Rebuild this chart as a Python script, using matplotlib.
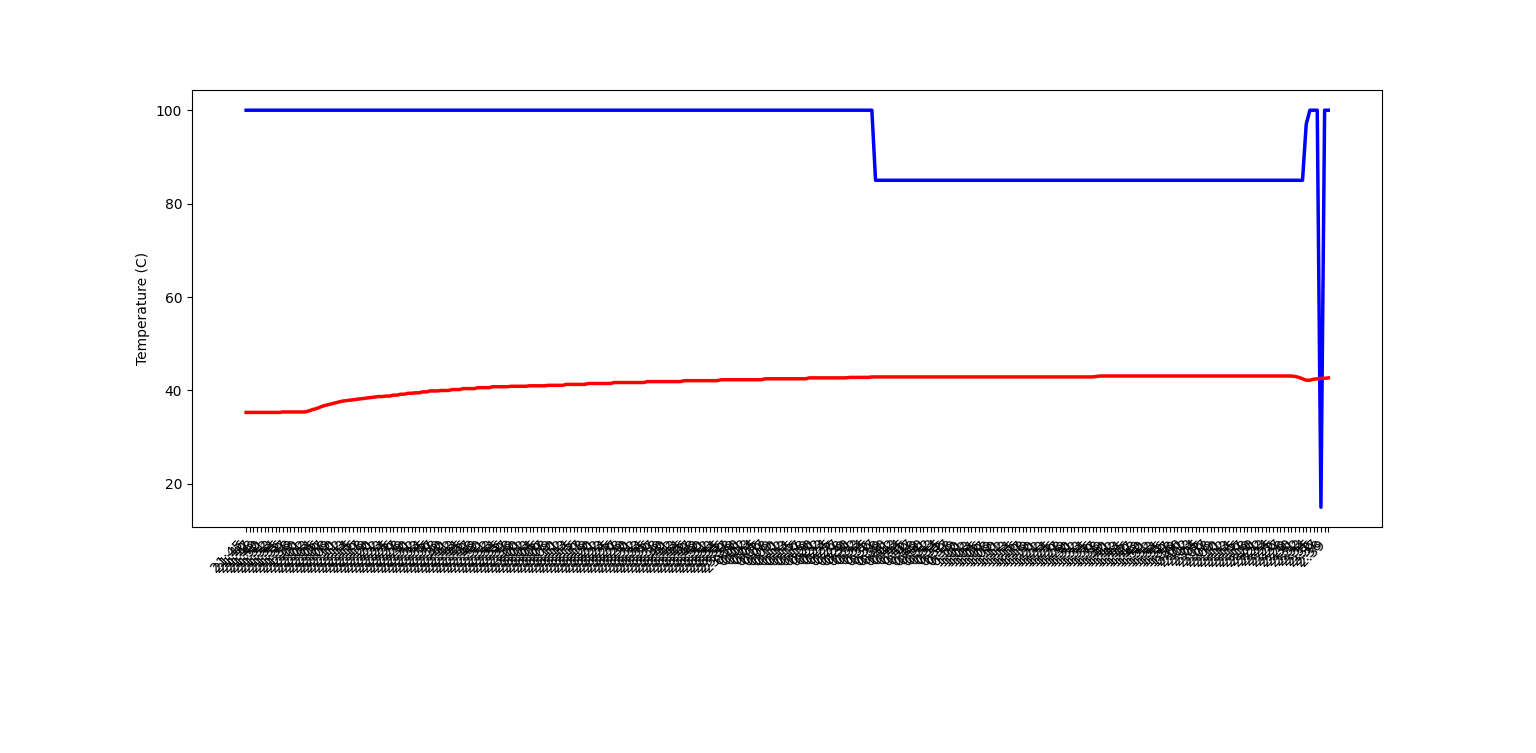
import matplotlib
matplotlib.use('Agg')
import matplotlib.pyplot as plt
import pandas as pd

# readings, one per minute (labels are unreadable in the source, clock times assumed)
START = '2021-01-01 21:45'
N_POINTS = 295

# (value, how many readings)
setpoint_runs = [
  (100.0, 171), (85.0, 117), (97.0, 1), (100.0, 3), (15.0, 1), (100.0, 2)
]

temp_runs = [
  (35.3, 10), (35.4, 7), (35.6, 1), (35.9, 1), (36.1, 1), (36.4, 1), (36.7, 1),
  (36.9, 1), (37.1, 1), (37.3, 1), (37.5, 1), (37.7, 1), (37.8, 1), (37.9, 1),
  (38.0, 1), (38.1, 1), (38.2, 1), (38.3, 1), (38.4, 1), (38.5, 1), (38.6, 1),
  (38.7, 2), (38.8, 2), (39.0, 2), (39.2, 2), (39.4, 2), (39.5, 2), (39.7, 2),
  (39.9, 3), (40.0, 3), (40.2, 3), (40.4, 4), (40.6, 4), (40.8, 5), (40.9, 5),
  (41.0, 5), (41.1, 5), (41.3, 6), (41.5, 7), (41.7, 9), (41.9, 10), (42.1, 10),
  (42.3, 12), (42.5, 12), (42.7, 11), (42.8, 6), (42.9, 61), (43.0, 1), (43.1, 53),
  (43.0, 1), (42.8, 1), (42.5, 1), (42.2, 1), (42.2, 1), (42.4, 1), (42.5, 1),
  (42.6, 1), (42.6, 1), (42.7, 1)
]

def expandir(runs):
  valores = []
  for valor, n in runs:
    valores += [valor] * n
  return valores

setpoint = expandir(setpoint_runs)
temperatura = expandir(temp_runs)

horarios = [f'{t.hour}:{t.minute:02d}'
            for t in pd.date_range(START, periods=N_POINTS, freq='min')]

plt.figure(figsize=(15.36, 7.53), dpi=100)
plt.plot(horarios, setpoint, color='b', linewidth=2.5)
plt.plot(horarios, temperatura, color='r', linewidth=2.5)
plt.ylabel('Temperature (C)')
plt.xticks(rotation=45, ha='right')
plt.subplots_adjust(bottom=0.3)
plt.savefig('out.png', dpi=100)
